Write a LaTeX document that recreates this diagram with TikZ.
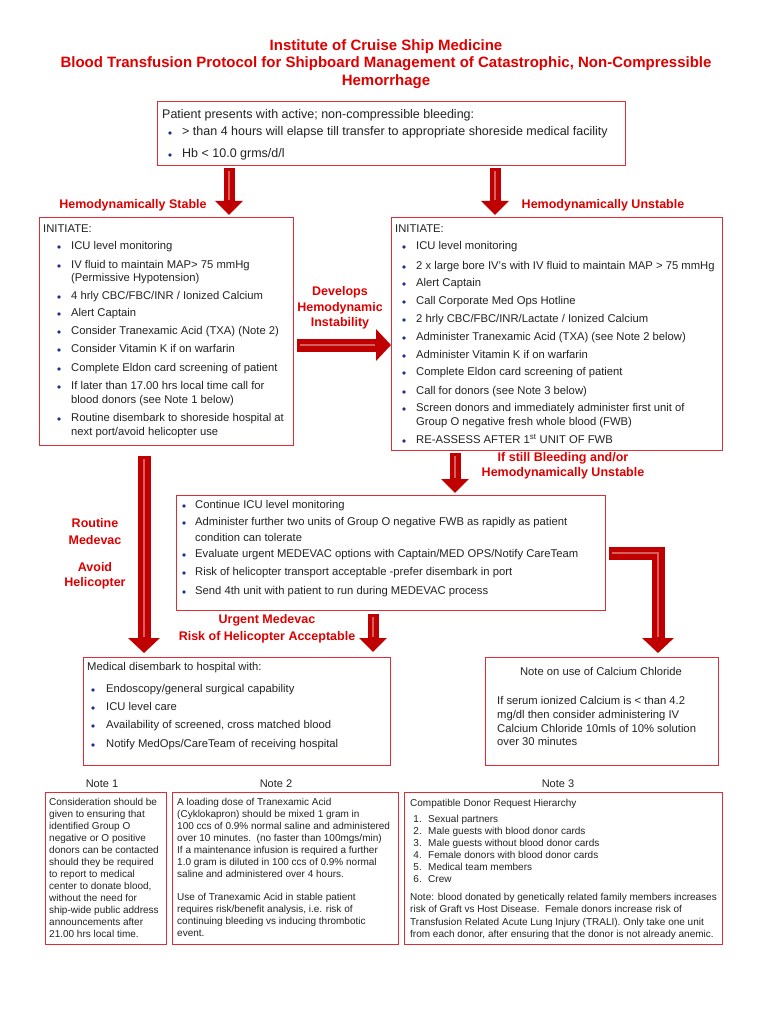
\documentclass[tikz,border=0pt]{standalone}
\usepackage{fontspec}
\setmainfont{Liberation Sans}
\usetikzlibrary{arrows.meta}
\definecolor{titlered}{RGB}{222,0,0}
\definecolor{boxred}{RGB}{222,45,55}
\definecolor{arrowred}{RGB}{192,0,0}
\definecolor{stripecol}{RGB}{214,96,96}
\definecolor{bulblue}{RGB}{30,50,150}
\definecolor{txtgray}{RGB}{35,35,35}
\newcommand{\bdot}[2]{\fill[bulblue] (#1,#2) circle (1.9pt);}
\tikzset{
 box/.style={draw=boxred, line width=1.1pt, anchor=north west, inner sep=0pt},
 txt/.style={anchor=mid west, inner sep=0pt, font=\fontsize{11.25}{13}\selectfont, text=txtgray},
 ttxt/.style={anchor=mid west, inner sep=0pt, font=\fontsize{12.5}{14}\selectfont, text=txtgray},
 ntxt/.style={anchor=mid west, inner sep=0pt, font=\fontsize{10}{12}\selectfont, text=txtgray},
 nlab/.style={inner sep=0pt, font=\fontsize{11}{12}\selectfont, text=txtgray},
 lab/.style={font=\fontsize{12.5}{15.5}\selectfont\bfseries, text=titlered, inner sep=0pt, align=center},
 ttl/.style={font=\fontsize{15}{17.5}\selectfont\bfseries, text=titlered, inner sep=0pt, align=center},
 bigarrow/.style={draw=arrowred, line width=13pt, line join=miter, -{Triangle[width=31pt,length=15pt]}},
 smallarrow/.style={draw=arrowred, line width=11pt, line join=miter, -{Triangle[width=27pt,length=14pt]}},
 stripeline/.style={draw=stripecol, line width=2.2pt, line join=miter},
}
\begin{document}
\begin{tikzpicture}[x=1pt,y=-1pt]
\useasboundingbox (0,0) rectangle (768,1024);
\fill[white] (0,0) rectangle (768,1024);

% title
\node[ttl] (title) at (386,64) {Institute of Cruise Ship Medicine\\Blood Transfusion Protocol for Shipboard Management of Catastrophic, Non-Compressible\\Hemorrhage};

% boxes
\node[box, minimum width=468pt, minimum height=64pt] (top) at (157,101) {};
\node[box, minimum width=254pt, minimum height=228pt] (stable) at (39,217) {};
\node[box, minimum width=331pt, minimum height=233pt] (unstable) at (391,217) {};
\node[box, minimum width=429pt, minimum height=115pt] (cont) at (176,495) {};
\node[box, minimum width=307pt, minimum height=108pt] (disemb) at (83,657) {};
\node[box, minimum width=233pt, minimum height=108pt] (calc) at (485,657) {};
\node[box, minimum width=121pt, minimum height=152pt] (n1) at (45,792) {};
\node[box, minimum width=226pt, minimum height=152pt] (n2) at (172,792) {};
\node[box, minimum width=318pt, minimum height=152pt] (n3) at (404,792) {};

% arrows
\draw[smallarrow, shorten <=2pt, shorten >=2pt] (top.south -| 229,0) -- (stable.north -| 229,0);
\draw[stripeline, shorten <=5pt, shorten >=17pt] (top.south -| 229,0) -- (stable.north -| 229,0);
\draw[smallarrow, shorten <=2pt, shorten >=2pt] (top.south -| 495,0) -- (unstable.north -| 495,0);
\draw[stripeline, shorten <=5pt, shorten >=17pt] (top.south -| 495,0) -- (unstable.north -| 495,0);
\draw[bigarrow, shorten <=3pt] (stable.east |- 0,345) -- (unstable.west |- 0,345);
\draw[stripeline, shorten <=6pt, shorten >=16pt] (stable.east |- 0,345) -- (unstable.west |- 0,345);
\draw[smallarrow, shorten <=2pt, shorten >=2pt] (unstable.south -| 455,0) -- (cont.north -| 455,0);
\draw[stripeline, shorten <=5pt, shorten >=17pt] (unstable.south -| 455,0) -- (cont.north -| 455,0);
\draw[bigarrow, shorten <=10pt, shorten >=4pt] (stable.south -| 144,0) -- (disemb.north -| 144,0);
\draw[stripeline, shorten <=13pt, shorten >=20pt] (stable.south -| 144,0) -- (disemb.north -| 144,0);
\draw[smallarrow, shorten <=3pt, shorten >=5pt] (cont.south -| 373,0) -- (disemb.north -| 373,0);
\draw[stripeline, shorten <=6pt, shorten >=20pt] (cont.south -| 373,0) -- (disemb.north -| 373,0);
\coordinate (bend) at (658,553);
\draw[bigarrow, shorten <=3pt, shorten >=4pt] (cont.east |- bend) -- (bend) -- (calc.north -| bend);
\draw[stripeline, shorten <=6pt, shorten >=20pt] (cont.east |- bend) -- (bend) -- (calc.north -| bend);

% labels
\node[lab] (lstable) at (133,205) {Hemodynamically Stable};
\node[lab] (lunstable) at (603,205) {Hemodynamically Unstable};
\node[lab] (ldev) at (340,308) {Develops\\Hemodynamic\\Instability};
\node[lab] (lstill) at (563,466) {If still Bleeding and/or\\Hemodynamically Unstable};
\node[lab, font=\fontsize{12.5}{17}\selectfont\bfseries] (lroutine) at (95,532) {Routine\\Medevac};
\node[lab] (lavoid) at (95,576) {Avoid\\Helicopter};
\node[lab, font=\fontsize{12.5}{17}\selectfont\bfseries] (lurgent) at (267,629) {Urgent Medevac\\Risk of Helicopter Acceptable};

% top box
\node[ttxt] at (162,116) {Patient presents with active; non-compressible bleeding:};
\bdot{170}{133}\node[ttxt] at (182,133) {> than 4 hours will elapse till transfer to appropriate shoreside medical facility};
\bdot{170}{155}\node[ttxt] at (182,155) {Hb < 10.0 grms/d/l};

% stable box
\node[txt] at (43,230) {INITIATE:};
\bdot{59}{247}\node[txt] at (71,247) {ICU level monitoring};
\bdot{59}{266}\node[txt] at (71,266) {IV fluid to maintain MAP> 75 mmHg};
\node[txt] at (71,279) {(Permissive Hypotension)};
\bdot{59}{297}\node[txt] at (71,297) {4 hrly CBC/FBC/INR / Ionized Calcium};
\bdot{59}{314}\node[txt] at (71,314) {Alert Captain};
\bdot{59}{332}\node[txt] at (71,332) {Consider Tranexamic Acid (TXA) (Note 2)};
\bdot{59}{350}\node[txt] at (71,350) {Consider Vitamin K if on warfarin};
\bdot{59}{369}\node[txt] at (71,369) {Complete Eldon card screening of patient};
\bdot{59}{387}\node[txt] at (71,387) {If later than 17.00 hrs local time call for};
\node[txt] at (71,401) {blood donors (see Note 1 below)};
\bdot{59}{419}\node[txt] at (71,419) {Routine disembark to shoreside hospital at};
\node[txt] at (71,433) {next port/avoid helicopter use};

% unstable box
\node[txt] at (395,230) {INITIATE:};
\bdot{404}{247}\node[txt] at (416,247) {ICU level monitoring};
\bdot{404}{267}\node[txt] at (416,267) {2 x large bore IV's with IV fluid to maintain MAP > 75 mmHg};
\bdot{404}{284}\node[txt] at (416,284) {Alert Captain};
\bdot{404}{302}\node[txt] at (416,302) {Call Corporate Med Ops Hotline};
\bdot{404}{320}\node[txt] at (416,320) {2 hrly CBC/FBC/INR/Lactate / Ionized Calcium};
\bdot{404}{338}\node[txt] at (416,338) {Administer Tranexamic Acid (TXA) (see Note 2 below)};
\bdot{404}{356}\node[txt] at (416,356) {Administer Vitamin K if on warfarin};
\bdot{404}{373}\node[txt] at (416,373) {Complete Eldon card screening of patient};
\bdot{404}{392}\node[txt] at (416,392) {Call for donors (see Note 3 below)};
\bdot{404}{409}\node[txt] at (416,409) {Screen donors and immediately administer first unit of};
\node[txt] at (416,423) {Group O negative fresh whole blood (FWB)};
\bdot{404}{441}\node[txt] at (416,441) {RE-ASSESS AFTER 1\textsuperscript{st} UNIT OF FWB};

% continue box
\bdot{184}{506}\node[txt] at (195,506) {Continue ICU level monitoring};
\bdot{184}{523}\node[txt] at (195,523) {Administer further two units of Group O negative FWB as rapidly as patient};
\node[txt] at (195,539) {condition can tolerate};
\bdot{184}{555}\node[txt] at (195,555) {Evaluate urgent MEDEVAC options with Captain/MED OPS/Notify CareTeam};
\bdot{184}{573}\node[txt] at (195,573) {Risk of helicopter transport acceptable -prefer disembark in port};
\bdot{184}{592}\node[txt] at (195,592) {Send 4th unit with patient to run during MEDEVAC process};

% disembark box
\node[txt] at (87,668) {Medical disembark to hospital with:};
\bdot{93}{690}\node[txt] at (106,690) {Endoscopy/general surgical capability};
\bdot{93}{708}\node[txt] at (106,708) {ICU level care};
\bdot{93}{726}\node[txt] at (106,726) {Availability of screened, cross matched blood};
\bdot{93}{745}\node[txt] at (106,745) {Notify MedOps/CareTeam of receiving hospital};

% calcium box
\node[txt, anchor=mid] at (601,673) {Note on use of Calcium Chloride};
\foreach \t [count=\i] in {{If serum ionized Calcium is < than 4.2},{mg/dl then consider administering IV},{Calcium Chloride 10mls of 10\% solution},{over 30 minutes}}
  \node[txt] at (497,{702+13.7*(\i-1)}) {\t};

% note labels
\node[nlab] (l1) at (102,784) {Note 1};
\node[nlab] (l2) at (276,784) {Note 2};
\node[nlab] (l3) at (558,784) {Note 3};

% note 1
\foreach \t [count=\i] in {{Consideration should be},{given to ensuring that},{identified Group O},{negative or O positive},{donors can be contacted},{should they be required},{to report to medical},{center to donate blood,},{without the need for},{ship-wide public address},{announcements after},{21.00 hrs local time.}}
  \node[ntxt] at (49,{803+12*(\i-1)}) {\t};

% note 2
\foreach \t [count=\i] in {{A loading dose of Tranexamic Acid},{(Cyklokapron) should be mixed 1 gram in},{100 ccs of 0.9\% normal saline and administered},{over 10 minutes.\ \ (no faster than 100mgs/min)},{If a maintenance infusion is required a further},{1.0 gram is diluted in 100 ccs of 0.9\% normal},{saline and administered over 4 hours.}}
  \node[ntxt] at (177,{803+12*(\i-1)}) {\t};
\foreach \t [count=\i] in {{Use of Tranexamic Acid in stable patient},{requires risk/benefit analysis, i.e. risk of},{continuing bleeding vs inducing thrombotic},{event.}}
  \node[ntxt] at (177,{898+12*(\i-1)}) {\t};

% note 3
\node[ntxt] at (410,804) {Compatible Donor Request Hierarchy};
\foreach \t [count=\i] in {{Sexual partners},{Male guests with blood donor cards},{Male guests without blood donor cards},{Female donors with blood donor cards},{Medical team members},{Crew}}
  {\node[ntxt, anchor=mid east] at (422,{820+12*(\i-1)}) {\i.};
   \node[ntxt] at (428,{820+12*(\i-1)}) {\t};}
\foreach \t [count=\i] in {{Note: blood donated by genetically related family members increases},{risk of Graft vs Host Disease.\ \ Female donors increase risk of},{Transfusion Related Acute Lung Injury (TRALI). Only take one unit},{from each donor, after ensuring that the donor is not already anemic.}}
  \node[ntxt] at (410,{898+12.2*(\i-1)}) {\t};
\end{tikzpicture}
\end{document}
